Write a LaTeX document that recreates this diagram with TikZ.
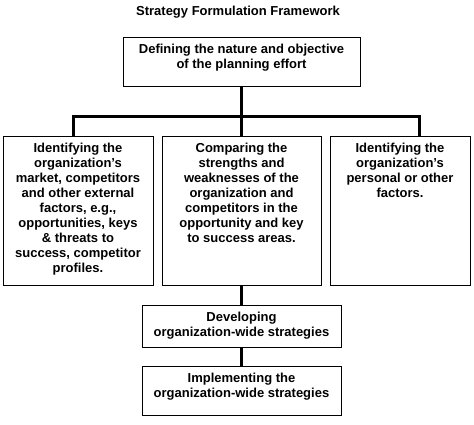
\documentclass[tikz,border=0pt]{standalone}
\usepackage{fontspec}
\setmainfont{Liberation Sans}
\usetikzlibrary{positioning}

\begin{document}
\begin{tikzpicture}[x=1pt,y=-1pt,
  box/.style={draw,line width=1pt,inner sep=0pt},
  txt/.style={align=center,inner sep=0pt,font=\bfseries\fontsize{13}{15}\selectfont},
  link/.style={line width=3pt,line join=miter}]
  \useasboundingbox (0,0) rectangle (474,425);
  \node[txt] (title) at (238,12) {Strategy Formulation Framework};
  % boxes
  \node[box,minimum width=237pt,minimum height=49pt] (top) at (241.5,62.5) {};
  \node[box,minimum width=150pt,minimum height=148pt] (ext) at (78,211) {};
  \node[box,minimum width=159pt,minimum height=148pt] (mid) at (241.5,211) {};
  \node[box,minimum width=140pt,minimum height=148pt] (pers) at (400,211) {};
  \node[box,minimum width=199pt,minimum height=42pt] (dev) [below=19pt of mid] {};
  \node[box,minimum width=199pt,minimum height=49pt] (impl) [below=18pt of dev] {};
  % texts
  \node[txt] (topT) [below=6pt of top.north] {Defining the nature and objective\\of the planning effort};
  \node[txt] (extT) [below=6pt of ext.north] {Identifying the\\organization's\\market, competitors\\and other external\\factors, e.g.,\\opportunities, keys\\\& threats to\\success, competitor\\profiles.};
  \node[txt] (midT) [below=6pt of mid.north] {Comparing the\\strengths and\\weaknesses of the\\organization and\\competitors in the\\opportunity and key\\to success areas.};
  \node[txt] (persT) [below=6pt of pers.north] {Identifying the\\organization's\\personal or other\\factors.};
  \node[txt] (devT) [below=7pt of dev.north] {Developing\\organization-wide strategies};
  \node[txt] (implT) [below=7pt of impl.north] {Implementing the\\organization-wide strategies};
  % connectors
  \coordinate (barL) at (73,117);
  \coordinate (barR) at (419,117);
  \draw[link] (top) -- (mid);
  \draw[link] (barL |- ext.north) -- (barL) -- (barR) -- (barR |- pers.north);
  \draw[link] (mid) -- (dev);
  \draw[link] (dev) -- (impl);
\end{tikzpicture}
\end{document}
